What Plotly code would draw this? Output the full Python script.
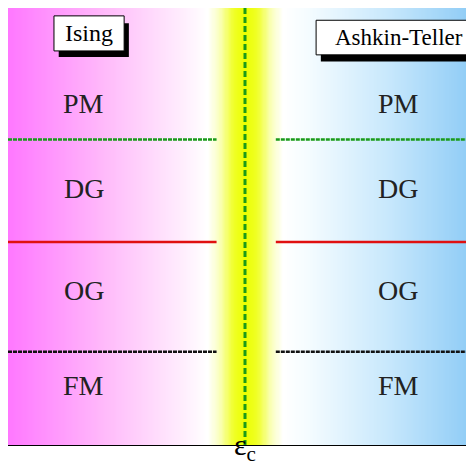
import plotly.graph_objects as go
import numpy as np

phases = ["PM", "DG", "OG", "FM"]
phase_y = [0.783, 0.589, 0.354, 0.137]
boundary_y = [0.70, 0.466, 0.215]
boundary_colors = ["#1a9a1a", "#e01010", "#111111"]
boundary_dash = ["4px,1px", "solid", "4px,1px"]
models = ["Ising", "Ashkin-Teller"]

xs = np.linspace(0, 1, 400)
cs = [[0.0, "rgb(255,120,255)"], [0.2, "rgb(255,185,250)"], [0.36, "rgb(255,235,253)"],
      [0.42, "rgb(255,255,255)"], [0.445, "rgb(250,255,190)"], [0.475, "rgb(240,255,40)"],
      [0.5, "rgb(235,255,0)"], [0.525, "rgb(240,255,40)"], [0.555, "rgb(250,255,190)"],
      [0.58, "rgb(255,255,255)"], [0.63, "rgb(245,252,255)"],
      [0.8, "rgb(200,232,252)"], [1.0, "rgb(135,200,245)"]]

fig = go.Figure()
fig.add_trace(go.Heatmap(x=xs, y=[0, 1], z=[xs, xs], colorscale=cs, showscale=False,
                         hoverinfo="skip", zsmooth="best"))
for yb, c, d in zip(boundary_y, boundary_colors, boundary_dash):
    fig.add_trace(go.Scatter(x=[0, 0.44], y=[yb, yb], mode="lines", line=dict(color=c, width=2.5, dash=d), showlegend=False))
    fig.add_trace(go.Scatter(x=[0.565, 1], y=[yb, yb], mode="lines", line=dict(color=c, width=2.5, dash=d), showlegend=False))
fig.add_trace(go.Scatter(x=[0.5, 0.5], y=[0, 1], mode="lines", line=dict(color="#1a9a1a", width=3, dash="6px,3px"), showlegend=False))

font = dict(family="Liberation Serif", size=28, color="#222")
for p, y in zip(phases, phase_y):
    fig.add_annotation(x=0.16, y=y, text=p, showarrow=False, font=font)
    fig.add_annotation(x=0.823, y=y, text=p, showarrow=False, font=font)

fig.add_shape(type="rect", x0=0.107, x1=0.255, y0=0.888, y1=0.965, fillcolor="black", line=dict(width=0))
fig.add_shape(type="rect", x0=0.097, x1=0.245, y0=0.902, y1=0.982, fillcolor="white", line=dict(color="black", width=1))
fig.add_annotation(x=0.171, y=0.942, text=models[0], showarrow=False, font=dict(family="Liberation Serif", size=24, color="black"))
fig.add_shape(type="rect", x0=0.66, x1=1.0, y0=0.878, y1=0.955, fillcolor="black", line=dict(width=0))
fig.add_shape(type="rect", x0=0.65, x1=1.0, y0=0.893, y1=0.972, fillcolor="white", line=dict(color="black", width=1))
fig.add_annotation(x=0.825, y=0.932, text=models[1], showarrow=False, font=dict(family="Liberation Serif", size=23, color="black"))

fig.add_annotation(x=0.5, y=-0.05, yref="paper", text="ε<sub>c</sub>", showarrow=False,
                   font=dict(family="Liberation Serif", size=30, color="black"))

fig.update_xaxes(range=[0, 1], visible=False)
fig.update_yaxes(range=[0, 1], visible=False)
fig.add_shape(type="line", x0=0, x1=1, y0=0, y1=0, line=dict(color="black", width=2))
fig.update_layout(width=474, height=474, margin=dict(l=0, r=0, t=0, b=36),
                  plot_bgcolor="white", paper_bgcolor="white")
fig.write_html("out.html")
